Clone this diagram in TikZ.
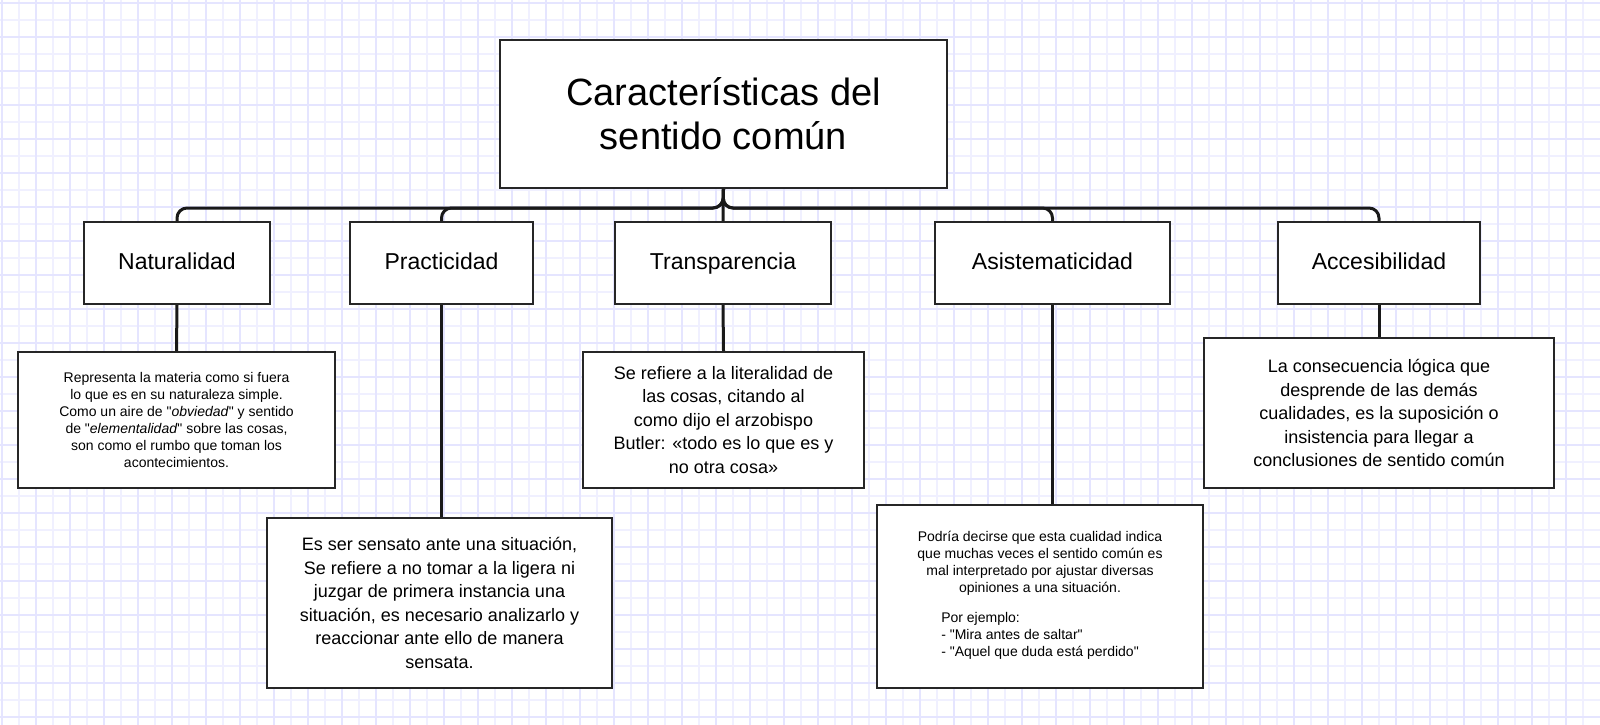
\documentclass[tikz,border=0pt]{standalone}
\usepackage{fontspec}
\setmainfont{Liberation Sans}
\newfontfamily\qf{Liberation Sans}
\newcommand{\dq}{{\qf"}}
\usetikzlibrary{calc}
\begin{document}
\begin{tikzpicture}[x=1pt,y=-1pt,
  box/.style={draw=black!85,line width=2pt,fill=white,align=center,inner sep=4pt},
  head/.style={box,minimum height=82,font=\fontsize{23}{27}\selectfont,text height=17pt,text depth=5pt},
  link/.style={draw=black!90,line width=3pt,rounded corners=10pt}]
\fill[white] (0,0) rectangle (1600,725);
\foreach \i in {0,...,93} {\draw[blue!6,line width=1.2pt] (2+\i*17,0) -- (2+\i*17,725);}
\foreach \i in {0,...,42} {\draw[blue!6,line width=1.2pt] (0,3+\i*17) -- (1600,3+\i*17);}
\foreach \i in {0,...,46} {\draw[blue!10,line width=1.2pt] (2+\i*34,0) -- (2+\i*34,725);}
\foreach \i in {0,...,21} {\draw[blue!10,line width=1.2pt] (0,3+\i*34) -- (1600,3+\i*34);}

\node[box,minimum width=447,minimum height=148,font=\fontsize{38}{44}\selectfont] (t) at (723.5,114) {Características del\\sentido común};

\node[head,minimum width=186] (n) at (177,263) {Naturalidad};
\node[head,minimum width=183] (p) at (441.5,263) {Practicidad};
\node[head,minimum width=216] (tr) at (723,263) {Transparencia};
\node[head,minimum width=235] (a) at (1052.5,263) {Asistematicidad};
\node[head,minimum width=202] (ac) at (1379,263) {Accesibilidad};

\coordinate (bus) at (723,208);
\foreach \c in {n,p,a,ac} {\draw[link] (\c.north) |- (bus) -- (t.south);}
\draw[link] (tr.north) -- (t.south);

\node[box,minimum width=317,minimum height=136,font=\fontsize{14}{17}\selectfont] (nd) at (176.5,420) {Representa la materia como si fuera\\lo que es en su naturaleza simple.\\Como un aire de \dq\textit{obviedad}\dq{} y sentido\\de \dq\textit{elementalidad}\dq{} sobre las cosas,\\son como el rumbo que toman los\\acontecimientos.};
\node[box,minimum width=345,minimum height=170,font=\fontsize{18}{23.5}\selectfont] (pd) at (439.5,603) {Es ser sensato ante una situación,\\Se refiere a no tomar a la ligera ni\\juzgar de primera instancia una\\situación, es necesario analizarlo y\\reaccionar ante ello de manera\\sensata.};
\node[box,minimum width=281,minimum height=136,font=\fontsize{18}{23.5}\selectfont] (td) at (723.5,420) {Se refiere a la literalidad de\\las cosas, citando al\\como dijo el arzobispo\\Butler: «todo es lo que es y\\no otra cosa»};
\node[box,minimum width=326,minimum height=183,font=\fontsize{14}{17}\selectfont] (ad) at (1040,596.5) {Podría decirse que esta cualidad indica\\que muchas veces el sentido común es\\mal interpretado por ajustar diversas\\opiniones a una situación.\\[14pt]\begin{tabular}{@{}l@{}}Por ejemplo:\\- \dq Mira antes de saltar\dq\\- \dq Aquel que duda está perdido\dq\end{tabular}};
\node[box,minimum width=350,minimum height=150,font=\fontsize{18}{23.5}\selectfont] (acd) at (1379,413) {La consecuencia lógica que\\desprende de las demás\\cualidades, es la suposición o\\insistencia para llegar a\\conclusiones de sentido común};

\draw[link] (n.south) -- (nd.north);
\draw[link] (p.south) -- (p.south |- pd.north);
\draw[link] (tr.south) -- (td.north);
\draw[link] (a.south) -- (a.south |- ad.north);
\draw[link] (ac.south) -- (acd.north);
\pgfresetboundingbox
\useasboundingbox (0,0) rectangle (1600,725);
\end{tikzpicture}
\end{document}
